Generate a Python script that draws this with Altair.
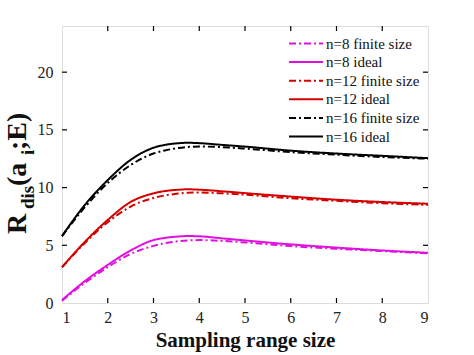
import altair as alt
import pandas as pd

xs = [1, 1.5, 2, 2.5, 3, 3.25, 3.5, 3.75, 4, 4.5, 5, 6, 7, 8, 9]
n8_finite = [0.2, 1.75, 3.1, 4.25, 4.95, 5.18, 5.33, 5.42, 5.45, 5.38, 5.25, 4.93, 4.7, 4.5, 4.3]
n8_ideal = [0.25, 1.9, 3.3, 4.55, 5.45, 5.64, 5.75, 5.8, 5.78, 5.6, 5.42, 5.08, 4.8, 4.55, 4.35]
n12_finite = [3.1, 5.2, 7.0, 8.35, 9.1, 9.32, 9.46, 9.55, 9.57, 9.5, 9.38, 9.08, 8.85, 8.65, 8.5]
n12_ideal = [3.1, 5.3, 7.2, 8.75, 9.5, 9.7, 9.8, 9.85, 9.82, 9.68, 9.52, 9.22, 8.95, 8.75, 8.6]
n16_finite = [5.8, 8.3, 10.4, 11.95, 12.95, 13.22, 13.4, 13.52, 13.56, 13.5, 13.38, 13.07, 12.85, 12.65, 12.5]
n16_ideal = [5.8, 8.5, 10.65, 12.4, 13.45, 13.7, 13.83, 13.88, 13.85, 13.7, 13.55, 13.2, 12.95, 12.75, 12.55]

series_names = ["n=8 finite size", "n=8 ideal", "n=12 finite size",
                "n=12 ideal", "n=16 finite size", "n=16 ideal"]
series_vals = [n8_finite, n8_ideal, n12_finite, n12_ideal, n16_finite, n16_ideal]
colors = ["#e010e0", "#e010e0", "#d40000", "#d40000", "#000000", "#000000"]
dashes = [[7, 3, 2, 3], [1, 0], [7, 3, 2, 3], [1, 0], [7, 3, 2, 3], [1, 0]]

x_ticks = [1, 2, 3, 4, 5, 6, 7, 8, 9]
y_ticks = [0, 5, 10, 15, 20]

rows = []
for name, vals in zip(series_names, series_vals):
    for xv, yv in zip(xs, vals):
        rows.append({"x": xv, "y": yv, "series": name})
df = pd.DataFrame(rows)

W, H = 366, 277
FONT = "Liberation Serif"

xscale = alt.Scale(domain=[1, 9], nice=False)
yscale = alt.Scale(domain=[0, 24], nice=False)

lines = alt.Chart(df).mark_line(strokeWidth=2, interpolate="monotone").encode(
    x=alt.X("x:Q", scale=xscale,
            axis=alt.Axis(values=x_ticks, title="Sampling range size", domain=False,
                          ticks=False, grid=False, labelFont=FONT, labelFontSize=16,
                          labelColor="#222", labelPadding=6, titleFont=FONT,
                          titleFontSize=21, titleFontWeight="bold", titleColor="#111",
                          titlePadding=4)),
    y=alt.Y("y:Q", scale=yscale,
            axis=alt.Axis(values=y_ticks, title=None, domain=False, ticks=False,
                          grid=False, labelFont=FONT, labelFontSize=16,
                          labelColor="#222", labelPadding=9)),
    color=alt.Color("series:N", scale=alt.Scale(domain=series_names, range=colors),
                    sort=series_names,
                    legend=alt.Legend(title=None, orient="none", legendX=226, legendY=10,
                                      symbolType="stroke", symbolSize=1156,
                                      symbolStrokeWidth=2, labelFont=FONT,
                                      labelFontSize=15, labelColor="#111",
                                      labelOffset=2, rowPadding=2.6, padding=0,
                                      clipHeight=15)),
    strokeDash=alt.StrokeDash("series:N", scale=alt.Scale(domain=series_names, range=dashes),
                              sort=series_names, legend=alt.Legend(title=None)),
    detail="series:N",
)

xt = pd.DataFrame({"v": x_ticks[1:-1]})
yt = pd.DataFrame({"v": y_ticks[1:]})
tick_len = 5
bt = alt.Chart(xt).mark_rule(color="black", strokeWidth=1.2).encode(
    x=alt.X("v:Q", scale=xscale), y=alt.value(H), y2=alt.value(H - tick_len))
tt = alt.Chart(xt).mark_rule(color="black", strokeWidth=1.2).encode(
    x=alt.X("v:Q", scale=xscale), y=alt.value(0), y2=alt.value(tick_len))
lt = alt.Chart(yt).mark_rule(color="black", strokeWidth=1.2).encode(
    y=alt.Y("v:Q", scale=yscale), x=alt.value(0), x2=alt.value(tick_len))
rt = alt.Chart(yt).mark_rule(color="black", strokeWidth=1.2).encode(
    y=alt.Y("v:Q", scale=yscale), x=alt.value(W), x2=alt.value(W - tick_len))

# y-axis label with subscripts, built from text pieces
ylab_parts = ["R", "dis", "(a", "i", ";E)"]
ylab_size = [28, 19, 28, 19, 28]
ylab_x = [-36, -28, -36, -28, -36]
ylab_y = [208, 183, 160, 129, 124]
pieces = []
for t, s, px, py in zip(ylab_parts, ylab_size, ylab_x, ylab_y):
    pieces.append(
        alt.Chart(pd.DataFrame({"t": [t]})).mark_text(
            font=FONT, fontSize=s, fontWeight="bold", angle=270, align="left",
            baseline="alphabetic", color="#111"
        ).encode(text="t:N", x=alt.value(px), y=alt.value(py))
    )

chart = alt.layer(lines, bt, tt, lt, rt, *pieces).properties(
    width=W, height=H,
    autosize=alt.AutoSizeParams(type="none"),
    padding={"left": 62, "top": 26, "right": 46, "bottom": 52},
).configure_view(stroke="black", strokeWidth=1.6).configure(background="white")

chart.save("out.html", embed_options={"renderer": "svg", "actions": False})
